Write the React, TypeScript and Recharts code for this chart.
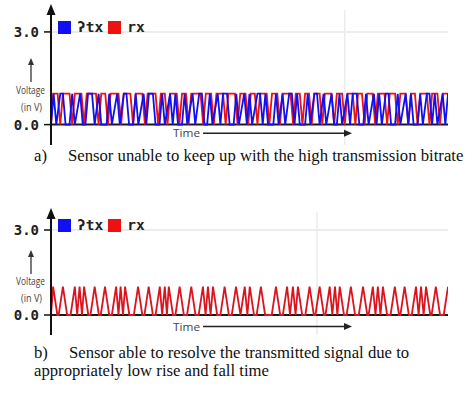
import { LineChart, Line, XAxis, YAxis, ReferenceLine, Legend } from 'recharts';

// [time, volts] pairs (time in arbitrary units, 0..150)
type Pt = [number, number];

const txTop: Pt[] = [
  [0, 0], [1, 1], [2, 0], [3.5, 1], [4.5, 1], [5.5, 0], [7, 0], [8, 1], [9, 0], [11, 1], [12, 0], [13, 0],
  [14, 1], [15.5, 1], [16.5, 0], [18, 1], [19, 0], [21, 0], [22, 1], [23, 0], [25, 1], [26, 0], [27.5, 1],
  [28.5, 1], [29.5, 0], [31, 0], [32, 1], [33, 0], [35, 1], [36, 0], [37, 1], [38.5, 1], [39.5, 0], [41, 0],
  [42, 1], [43, 0], [45, 1], [46, 0], [47, 1], [48, 0], [49.5, 0], [50.5, 1], [51.5, 0], [53.5, 1], [54.5, 0],
  [56, 1], [57, 1], [58, 0], [59, 0], [60, 1], [61, 0], [63, 1], [64, 0], [65, 1], [66.5, 1], [67.5, 0],
  [69, 0], [70, 1], [71, 0], [73, 1], [74, 0], [75, 1], [76, 0], [78, 1], [79, 1], [80, 0], [81, 1], [82, 0],
  [84, 0], [85, 1], [86, 0], [87.5, 1], [88.5, 0], [90, 1], [91, 1], [92, 0], [93, 1], [94, 0], [96, 0],
  [97, 1], [98, 0], [99.5, 1], [100.5, 1], [101.5, 0], [103, 1], [104, 0], [106, 1], [107, 0], [108, 0],
  [109, 1], [110, 0], [112, 1], [113, 0], [114, 1], [115.5, 1], [116.5, 0], [118, 0], [119, 1], [120, 0],
  [122, 1], [123, 0], [124, 1], [125, 0], [126.5, 1], [127.5, 1], [128.5, 0], [130, 0], [131, 1], [132, 0],
  [134, 1], [135, 0], [136, 1], [137, 0], [138.5, 0], [139.5, 1], [140.5, 0], [142, 1], [143, 1], [144, 0],
  [145, 1], [146, 0], [148, 1], [149, 0], [150, 1],
];

const rxTop: Pt[] = [
  [0, 0], [0.8, 1], [2.5, 1], [3.5, 0], [4.5, 1], [7, 1], [8, 0], [9, 1], [11.5, 1], [12.5, 0], [13.5, 1],
  [17, 1], [18, 0], [19, 1], [20.5, 1], [21.5, 0], [22.5, 1], [25.5, 1], [26.5, 0], [27.5, 1], [30, 1],
  [31, 0], [32, 1], [34.5, 1], [35.5, 0], [36.5, 1], [39.5, 1], [40.5, 0], [41.5, 1], [43, 1], [44, 0],
  [45, 1], [47.5, 1], [48.5, 0], [49.5, 1], [51, 1], [52, 0], [53, 1], [56.5, 1], [57.5, 0], [58.5, 1],
  [60.5, 1], [61.5, 0], [62.5, 1], [65, 1], [66, 0], [67, 1], [69.5, 1], [70.5, 0], [71.5, 1], [73.5, 1],
  [74.5, 0], [75.5, 1], [77, 1], [78, 0], [79, 1], [81.5, 1], [82.5, 0], [83.5, 1], [85.5, 1], [86.5, 0],
  [87.5, 1], [90.5, 1], [91.5, 0], [92.5, 1], [94, 1], [95, 0], [96, 1], [97.5, 1], [98.5, 0], [99.5, 1],
  [101.5, 1], [102.5, 0], [103.5, 1], [106, 1], [107, 0], [108, 1], [110, 1], [111, 0], [112, 1], [114, 1],
  [115, 0], [116, 1], [117.5, 1], [118.5, 0], [119.5, 1], [121.5, 1], [122.5, 0], [123.5, 1], [126, 1],
  [127, 0], [128, 1], [130, 1], [131, 0], [132, 1], [134, 1], [135, 0], [136, 1], [137.5, 1], [138.5, 0],
  [139.5, 1], [142, 1], [143, 0], [144, 1], [146, 1], [147, 0], [148, 1], [150, 1],
];

const rxBottom: Pt[] = [
  [0, 0], [0.8, 1], [2.4, 0], [2.9, 0], [4.5, 1], [6.1, 0], [7.4, 0], [9.0, 1], [9.9, 0], [10.8, 1],
  [11.7, 0], [12.5, 1], [14.1, 0], [14.9, 0], [16.5, 1], [18.1, 0], [18.8, 0], [20.4, 1], [22.0, 0], [23.0, 0],
  [24.6, 1], [25.5, 0], [26.3, 1], [27.2, 0], [28.0, 1], [29.6, 0], [31.3, 0], [32.9, 1], [34.5, 0], [35.3, 0],
  [36.9, 1], [38.5, 0], [39.5, 0], [41.1, 1], [42.0, 0], [43.0, 1], [43.8, 0], [44.5, 1], [46.1, 0], [47.0, 0],
  [48.6, 1], [50.2, 0], [51.4, 0], [53.0, 1], [54.6, 0], [55.8, 0], [57.4, 1], [58.4, 0], [59.3, 1], [60.3, 0],
  [61.2, 1], [62.8, 0], [64.0, 0], [65.6, 1], [67.2, 0], [68.3, 0], [69.9, 1], [71.6, 0], [73.2, 1], [74.2, 0],
  [75.1, 1], [76.7, 0], [77.7, 0], [79.3, 1], [80.9, 0], [83.4, 0], [85.0, 1], [86.6, 0], [87.6, 0], [89.2, 1],
  [90.3, 0], [91.4, 1], [92.4, 0], [93.3, 1], [94.9, 0], [96.1, 0], [97.7, 1], [99.3, 0], [99.9, 0], [101.5, 1],
  [103.1, 0], [103.7, 0], [105.3, 1], [106.3, 0], [107.3, 1], [108.2, 0], [109.1, 1], [110.7, 0], [111.7, 0],
  [113.3, 1], [114.9, 0], [116.3, 0], [117.9, 1], [119.5, 0], [120.0, 0], [121.6, 1], [122.6, 0], [123.5, 1],
  [124.5, 0], [125.4, 1], [127.0, 0], [128.3, 0], [129.9, 1], [131.5, 0], [132.0, 0], [133.6, 1], [135.2, 0],
  [136.3, 0], [137.9, 1], [138.9, 0], [139.8, 1], [140.8, 0], [141.7, 1], [143.3, 0], [143.8, 0], [145.4, 1],
  [147.0, 0], [148.4, 0], [150, 1],
];

const yTicks = [0, 3];
const legendItems = [
  { name: 'ʔtx', color: '#1010f0' },
  { name: 'rx', color: '#ee1111' },
];
const captionA = ['a)', 'Sensor unable to keep up with the high transmission bitrate'];
const captionB = ['b)', 'Sensor able to resolve the transmitted signal due to', 'appropriately low rise and fall time'];

const toRows = (pts: Pt[]) => pts.map(([t, v]) => ({ t, v }));

const MONO = '"DejaVu Sans Mono", monospace';
const SANS = '"Open Sans", sans-serif';
const SERIF = '"Liberation Serif", "Times New Roman", serif';

function LegendBox() {
  return (
    <div style={{ display: 'flex', alignItems: 'center', fontFamily: MONO, fontWeight: 700, fontSize: 14.5, color: '#222' }}>
      {legendItems.map((it) => (
        <span key={it.name} style={{ display: 'flex', alignItems: 'center', marginRight: 5 }}>
          <span style={{ width: 13, height: 13, background: it.color, marginRight: 6, display: 'inline-block' }} />
          {it.name}
        </span>
      ))}
    </div>
  );
}

interface PanelProps {
  top: number;
  height: number;
  marginTop: number;
  yDomain: [number, number];
  gridT: number;
  series: { pts: Pt[]; color: string }[];
  legendTop: number;
  arrowTip: number;
  voltArrow: number;
  voltText: number;
  timeY: number;
}

function Panel(p: PanelProps) {
  return (
    <div style={{ position: 'absolute', left: 0, top: p.top, width: 474, height: p.height }}>
      <LineChart width={474} height={p.height} margin={{ top: p.marginTop, right: 26, bottom: 3, left: 0 }}>
        <XAxis dataKey="t" type="number" domain={[0, 150]} hide allowDataOverflow />
        <YAxis
          type="number"
          domain={p.yDomain}
          ticks={yTicks}
          interval={0}
          allowDataOverflow
          width={51}
          tickFormatter={(v: number) => v.toFixed(1)}
          axisLine={{ stroke: '#111', strokeWidth: 2 }}
          tickLine={{ stroke: '#111', strokeWidth: 1.5 }}
          tickSize={7}
          tickMargin={5}
          tick={{ fill: '#222', fontSize: 14, fontFamily: MONO, fontWeight: 700 }}
        />
        <ReferenceLine y={3} stroke="#e6e6e6" strokeWidth={1.5} />
        <ReferenceLine x={p.gridT} stroke="#ececec" strokeWidth={1.5} />
        <ReferenceLine y={0} stroke="#1a1a1a" strokeWidth={2} />
        {p.series.map((s, i) => (
          <Line
            key={i}
            data={toRows(s.pts)}
            dataKey="v"
            type="linear"
            stroke={s.color}
            strokeWidth={1.8}
            dot={false}
            activeDot={false}
            isAnimationActive={false}
          />
        ))}
        <Legend
          layout="horizontal"
          verticalAlign="middle"
          align="center"
          content={() => <LegendBox />}
          wrapperStyle={{ top: p.legendTop, left: 58, width: 'auto' }}
        />
      </LineChart>
      <svg width={474} height={p.height} style={{ position: 'absolute', left: 0, top: 0, pointerEvents: 'none' }}>
        <polygon points={`51,${p.arrowTip} 46.5,${p.arrowTip + 11} 55.5,${p.arrowTip + 11}`} fill="#111" />
        <line x1={31} x2={31} y1={p.voltArrow + 5} y2={p.voltArrow + 24} stroke="#333" strokeWidth={1.3} />
        <polygon points={`31,${p.voltArrow} 28,${p.voltArrow + 7} 34,${p.voltArrow + 7}`} fill="#333" />
        <text x={16} y={p.voltText} fontFamily={SANS} fontSize={10} fill="#444" textLength={29} lengthAdjust="spacingAndGlyphs">
          Voltage
        </text>
        <text x={21} y={p.voltText + 17} fontFamily={SANS} fontSize={10} fill="#444" textLength={21} lengthAdjust="spacingAndGlyphs">
          (in V)
        </text>
        <text x={173} y={p.timeY + 4} fontFamily={SANS} fontSize={11} fill="#444" textLength={27} lengthAdjust="spacingAndGlyphs">
          Time
        </text>
        <line x1={203} x2={346} y1={p.timeY} y2={p.timeY} stroke="#222" strokeWidth={1.5} />
        <polygon points={`352,${p.timeY} 344,${p.timeY - 3.5} 344,${p.timeY + 3.5}`} fill="#222" />
      </svg>
    </div>
  );
}

const capStyle = { position: 'absolute' as const, fontFamily: SERIF, fontSize: 16.7, lineHeight: '18.3px', color: '#111', whiteSpace: 'nowrap' as const };

export default function App() {
  return (
    <div style={{ position: 'absolute', left: 0, top: 0, width: 474, height: 398, background: '#fff', overflow: 'hidden' }}>
      <Panel
        top={0}
        height={148}
        marginTop={10}
        yDomain={[-0.66, 3.71]}
        gridT={111}
        series={[
          { pts: rxTop, color: legendItems[1].color },
          { pts: txTop, color: legendItems[0].color },
        ]}
        legendTop={19}
        arrowTip={4}
        voltArrow={58}
        voltText={93.5}
        timeY={133.3}
      />
      <div style={{ ...capStyle, left: 34, top: 147 }}>{captionA[0]}</div>
      <div style={{ ...capStyle, left: 68, top: 147 }}>{captionA[1]}</div>

      <Panel
        top={200}
        height={138}
        marginTop={12}
        yDomain={[-0.706, 3.636]}
        gridT={100.5}
        series={[{ pts: rxBottom, color: '#dc1420' }]}
        legendTop={17}
        arrowTip={8}
        voltArrow={50}
        voltText={85}
        timeY={126.5}
      />
      <div style={{ ...capStyle, left: 34, top: 344 }}>{captionB[0]}</div>
      <div style={{ ...capStyle, left: 69, top: 344 }}>{captionB[1]}</div>
      <div style={{ ...capStyle, left: 34, top: 362.3 }}>{captionB[2]}</div>
    </div>
  );
}
